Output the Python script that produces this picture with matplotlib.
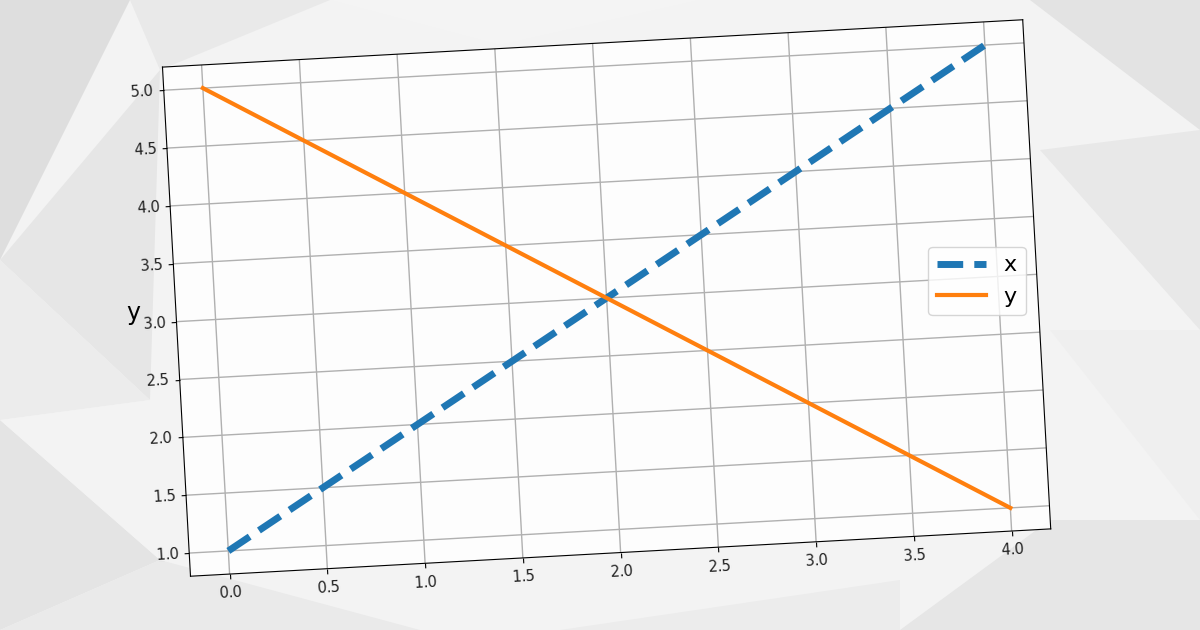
import matplotlib.pyplot as plt
import numpy as np
from matplotlib.transforms import Affine2D
from matplotlib.patches import Polygon
import mpl_toolkits.axisartist.floating_axes as floating_axes
from mpl_toolkits.axisartist.grid_finder import FixedLocator

# data
x_values = [0, 1, 2, 3, 4]
x_series = [1, 2, 3, 4, 5]
y_series = [5, 4, 3, 2, 1]
x_ticks = [0.0, 0.5, 1.0, 1.5, 2.0, 2.5, 3.0, 3.5, 4.0]
y_ticks = [1.0, 1.5, 2.0, 2.5, 3.0, 3.5, 4.0, 4.5, 5.0]
x_limits = (-0.2, 4.2)
y_limits = (0.8, 5.2)

# low-poly backdrop, pixel corners (decoration only)
backdrop = [
    ([(0, 0), (130, 0), (0, 260)], '#dedede'),
    ([(130, 0), (330, 0), (160, 70)], '#e9e9e9'),
    ([(0, 260), (160, 70), (150, 400)], '#e6e6e6'),
    ([(0, 260), (150, 400), (0, 420)], '#ececec'),
    ([(0, 420), (160, 560), (0, 630)], '#e4e4e4'),
    ([(160, 560), (420, 630), (0, 630)], '#eaeaea'),
    ([(150, 400), (160, 560), (0, 420)], '#f3f3f3'),
    ([(1030, 0), (1200, 0), (1200, 130)], '#e3e3e3'),
    ([(1040, 150), (1200, 130), (1200, 330)], '#e8e8e8'),
    ([(1050, 330), (1200, 330), (1200, 520)], '#efefef'),
    ([(1050, 520), (1200, 520), (1200, 630), (900, 630)], '#e6e6e6'),
    ([(560, 630), (900, 580), (900, 630)], '#ececec'),
    ([(330, 0), (700, 0), (500, 45)], '#f4f4f4'),
]


def draw_backdrop(fig):
    fig.patch.set_facecolor('#f3f3f3')
    for corners, color in backdrop:
        pts = np.array(corners, dtype=float)
        pts[:, 0] /= 1200
        pts[:, 1] = 1 - pts[:, 1] / 630
        fig.patches.append(Polygon(pts, closed=True, transform=fig.transFigure,
                                   facecolor=color, edgecolor='none', zorder=-10))


def main():
    fig = plt.figure(figsize=(12, 6.3), dpi=100)
    draw_backdrop(fig)

    tr = Affine2D().scale(1.96, 1.16).rotate_deg(3.15)
    helper = floating_axes.GridHelperCurveLinear(
        tr, extremes=(*x_limits, *y_limits),
        grid_locator1=FixedLocator(x_ticks),
        grid_locator2=FixedLocator(y_ticks))
    ax = fig.add_axes([0.128, 0.072, 0.755, 0.91],
                      axes_class=floating_axes.FloatingAxes, grid_helper=helper)
    ax.patch.set_facecolor('white')
    ax.patch.set_alpha(0.85)

    aux = ax.get_aux_axes(tr)
    aux.plot(x_values, x_series, '--', color='#1f77b4', lw=5, label='x')
    aux.plot(x_values, y_series, color='#ff7f0e', lw=3, label='y')

    ax.grid(True, color='#b0b0b0', lw=1.0)
    for side in ['left', 'bottom']:
        ax.axis[side].major_ticks.set_tick_out(True)
        ax.axis[side].major_ticklabels.set_fontsize(10.5)
        ax.axis[side].major_ticklabels.set_color('#222222')
    for side in ['top', 'right']:
        ax.axis[side].major_ticks.set_visible(False)
        ax.axis[side].major_ticklabels.set_visible(False)

    handles, labels = aux.get_legend_handles_labels()
    ax.legend(handles, labels, loc='center right', bbox_to_anchor=(0.975, 0.53),
              fontsize=16, handlelength=2.2)

    fig.text(133 / 1200, 1 - 313 / 630, 'y', fontsize=17, ha='center', va='center')
    fig.savefig('out.png', dpi=100, facecolor=fig.get_facecolor())


if __name__ == '__main__':
    main()
